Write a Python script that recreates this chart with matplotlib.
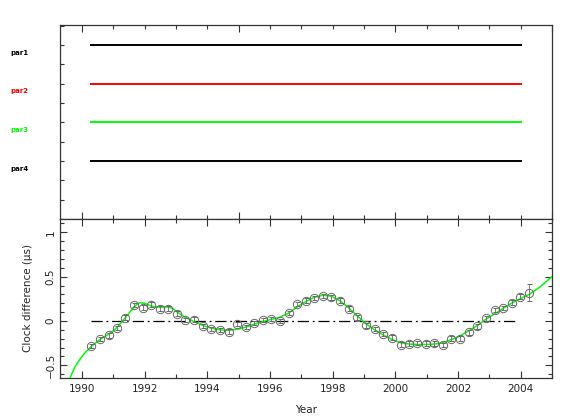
import matplotlib
matplotlib.use("Agg")
import matplotlib.pyplot as plt
from matplotlib.ticker import MultipleLocator, FixedLocator, FuncFormatter
from matplotlib.transforms import blended_transform_factory

# ---- data ----
years = [1990.29, 1990.57, 1990.85, 1991.13, 1991.39, 1991.67, 1991.94, 1992.21,
         1992.48, 1992.76, 1993.02, 1993.30, 1993.57, 1993.85, 1994.13, 1994.40,
         1994.68, 1994.96, 1995.22, 1995.50, 1995.78, 1996.04, 1996.32, 1996.60,
         1996.87, 1997.15, 1997.41, 1997.68, 1997.95, 1998.23, 1998.51, 1998.78,
         1999.06, 1999.34, 1999.62, 1999.89, 2000.17, 2000.44, 2000.70, 2000.98,
         2001.25, 2001.52, 2001.79, 2002.06, 2002.35, 2002.62, 2002.89, 2003.17,
         2003.43, 2003.71, 2003.98, 2004.27]
clock_diff = [-0.282, -0.203, -0.162, -0.079, 0.037, 0.180, 0.150, 0.184,
              0.139, 0.139, 0.083, 0.011, 0.015, -0.056, -0.090, -0.100,
              -0.120, -0.037, -0.070, -0.020, 0.011, 0.023, 0.000, 0.087,
              0.190, 0.229, 0.259, 0.282, 0.267, 0.229, 0.139, 0.041,
              -0.049, -0.090, -0.147, -0.188, -0.267, -0.256, -0.248, -0.256,
              -0.252, -0.271, -0.199, -0.199, -0.128, -0.060, 0.030, 0.124,
              0.147, 0.206, 0.274, 0.319]
errors = [0.025] * 51 + [0.094]

fit_x = [1989.62, 1989.7, 1989.8, 1989.9, 1990.0, 1990.07, 1990.15, 1990.22,
         1990.29, 1990.43, 1990.57, 1990.71, 1990.85, 1991.0, 1991.13,
         1991.26, 1991.39, 1991.53, 1991.67, 1991.76, 1991.85, 1992.0, 1992.2,
         1992.35, 1992.5, 1992.75, 1992.9, 1993.0, 1993.15,
         1993.3, 1993.6, 1993.85, 1994.13, 1994.4, 1994.7, 1995.0, 1995.3,
         1995.5, 1995.8, 1996.0, 1996.3, 1996.6, 1996.87, 1997.15, 1997.4,
         1997.7, 1997.95, 1998.23, 1998.5, 1998.78, 1999.06, 1999.34, 1999.62,
         1999.9, 2000.17, 2000.44, 2000.7, 2001.0, 2001.25, 2001.52, 2001.79,
         2002.06, 2002.35, 2002.62, 2002.89, 2003.17, 2003.43, 2003.71, 2003.98,
         2004.27, 2004.6, 2005.0]
fit_y = [-0.645, -0.575, -0.505, -0.45, -0.40, -0.37, -0.34, -0.315,
         -0.29, -0.25, -0.21, -0.18, -0.15, -0.11, -0.07,
         -0.015, 0.04, 0.10, 0.16, 0.19, 0.205, 0.20, 0.17,
         0.157, 0.155, 0.16, 0.14, 0.11, 0.075,
         0.04, -0.01, -0.05, -0.08, -0.10, -0.105, -0.09, -0.06,
         -0.035, -0.005, 0.015, 0.04, 0.09, 0.16, 0.22, 0.265,
         0.29, 0.28, 0.23, 0.15, 0.06, -0.03, -0.10, -0.16,
         -0.21, -0.245, -0.26, -0.265, -0.265, -0.26, -0.245, -0.21,
         -0.17, -0.11, -0.05, 0.02, 0.08, 0.14, 0.20, 0.25,
         0.30, 0.38, 0.50]

zero_span = [1990.29, 2003.9]

par_labels = ["par1", "par2", "par3", "par4"]
par_colors = ["#000000", "#ff0000", "#00ff00", "#000000"]
par_levels = [4, 3, 2, 1]
par_span = [1990.26, 2004.05]

# ---- figure ----
fig = plt.figure(figsize=(5.73, 4.19), dpi=100)
L, R = 60 / 573, 552 / 573
ax_top = fig.add_axes([L, 1 - 219 / 419, R - L, (219 - 25) / 419])
ax = fig.add_axes([L, 1 - 378 / 419, R - L, (378 - 219) / 419])

spine_col = "#333333"
for a in (ax_top, ax):
    for s in a.spines.values():
        s.set_color(spine_col)
        s.set_linewidth(0.9)
    a.set_xlim(1989.3, 2005.0)

# top panel
lab_tr = blended_transform_factory(fig.transFigure, ax_top.transData)
for lab, col, lev in zip(par_labels, par_colors, par_levels):
    ax_top.plot(par_span, [lev, lev], color=col, lw=1.4, solid_capstyle="butt")
    ax_top.text(10 / 573, lev - 0.2, lab, color=col, fontsize=5,
                fontweight="bold", transform=lab_tr, ha="left", va="center")
ax_top.set_ylim(-0.5, 4.52)
ax_top.yaxis.set_major_locator(MultipleLocator(0.5))
ax_top.xaxis.set_major_locator(FixedLocator([1990, 1995, 2000, 2005]))
ax_top.xaxis.set_minor_locator(MultipleLocator(1))
ax_top.tick_params(which="both", direction="in", top=True, bottom=True,
                   left=True, right=False, labelbottom=False, labelleft=False,
                   color=spine_col, width=0.8)
ax_top.tick_params(which="major", length=5)
ax_top.tick_params(which="minor", length=3)
ax_top.tick_params(axis="y", length=3)

# bottom panel
ax.plot(zero_span, [0, 0], color="black", lw=0.9, linestyle=(0, (9, 3, 1.5, 3)))
ax.plot(fit_x, fit_y, color="#00ff00", lw=1.1)
ax.errorbar(years, clock_diff, yerr=errors, fmt="o", ms=6, mfc="none",
            mec="#666666", mew=0.7, ecolor="#666666", elinewidth=0.6,
            capsize=1.8, capthick=0.6)
ax.set_ylim(-0.643, 1.15)
ax.xaxis.set_major_locator(MultipleLocator(2))
ax.xaxis.set_minor_locator(MultipleLocator(1))
ax.yaxis.set_major_locator(MultipleLocator(0.5))
ax.yaxis.set_minor_locator(MultipleLocator(0.1))
ax.tick_params(which="both", direction="in", top=True, bottom=True,
               left=True, right=True, color=spine_col, width=0.8,
               labelsize=7.5, labelcolor="#222222")
ax.tick_params(which="major", length=5)
ax.tick_params(which="minor", length=3)
ax.xaxis.set_major_formatter(FuncFormatter(lambda v, p: f"{int(round(v))}"))
ax.yaxis.set_major_formatter(FuncFormatter(
    lambda v, p: ("0" if abs(v) < 1e-9 else (f"{v:g}".replace("-", "\u2212")))))
ax.tick_params(axis="y", labelrotation=90, pad=3)
for lbl in ax.get_yticklabels():
    lbl.set_va("center")
ax.tick_params(axis="x", pad=4)
ax.set_xlabel("Year", fontsize=7.5, color="#222222", labelpad=8)
ax.set_ylabel("Clock difference (\u03bcs)", fontsize=7.5, color="#222222", labelpad=9)

fig.savefig("out.png", dpi=100)
